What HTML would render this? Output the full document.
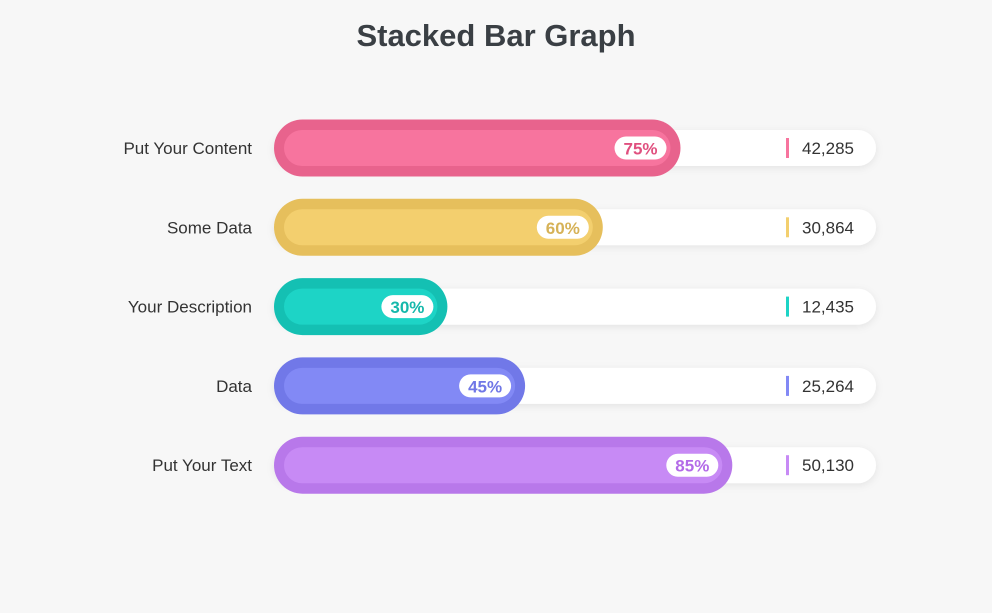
<!DOCTYPE html>
<html><head><meta charset="utf-8"><style>
body{margin:0;background:#f7f7f7;font-family:"Liberation Sans",sans-serif;}
#c{position:relative;width:992px;height:613px;overflow:hidden;background:#f7f7f7}
</style></head><body>
<div id="c">
<svg id="s" width="992" height="613">
<defs><filter id="sh" x="-10%" y="-50%" width="120%" height="200%"><feDropShadow dx="0" dy="2" stdDeviation="4" flood-color="#000" flood-opacity="0.08"/></filter></defs>
<text x="496" y="46" text-anchor="middle" font-size="31" font-weight="bold" fill="#3a3f44">Stacked Bar Graph</text>
<g id="bars"></g>
</svg>
</div>
<script>
const categories=["Put Your Content","Some Data","Your Description","Data","Put Your Text"];
const percents=[75,60,30,45,85];
const values=["42,285","30,864","12,435","25,264","50,130"];
const colors=["#f7749e","#f3cf6e","#1dd4c6","#8289f5","#c78af5"];
const dark=["#e8638d","#e6bf5c","#14c0b3","#7178e8","#b878ea"];
const textc=["#e0507f","#d6b257","#15b8ab","#6f76e6","#b36ae8"];
const x0=274,trackW=602,rowY0=148,rowStep=79.3;
const xs=p=>18+p*5.18;
const ns="http://www.w3.org/2000/svg";
const g=document.getElementById('bars');
function el(t,a,p){const e=document.createElementNS(ns,t);for(const k in a)e.setAttribute(k,a[k]);(p||g).appendChild(e);return e;}
categories.forEach((c,i)=>{
 const cy=rowY0+i*rowStep;
 const row=el('g',{});
 
 
 const tr=el('rect',{x:x0,y:cy-18,width:trackW,height:36,rx:18,fill:'#fff',filter:'url(#sh)'},row);
 
 
 const w=xs(percents[i]);
 const b=el('rect',{x:x0,y:cy-28.5,width:w,height:57,rx:28.5,fill:dark[i]},row);
 
 
 el('rect',{x:x0+10,y:cy-18,width:w-20,height:36,rx:18,fill:colors[i]},row);
 const pill=el('rect',{x:x0+w-66,y:cy-11.5,width:52,height:23,rx:11.5,fill:'#fff'},row);
 
 
 const pt=el('text',{x:x0+w-40,y:cy+6.5,'text-anchor':'middle','font-size':17,'font-weight':'bold',fill:textc[i]},row);
 pt.textContent=percents[i]+'%';
 
 
 el('rect',{x:786,y:cy-10,width:3,height:20,fill:colors[i]},row);
 const vt=el('text',{x:802,y:cy+6,'font-size':17,fill:'#333'},row);
 vt.textContent=values[i];
 
 
 const ct=el('text',{x:252,y:cy+6,'text-anchor':'end','font-size':17,fill:'#333'},row);
 ct.textContent=c;
 
 
});
</script>
</body></html>
